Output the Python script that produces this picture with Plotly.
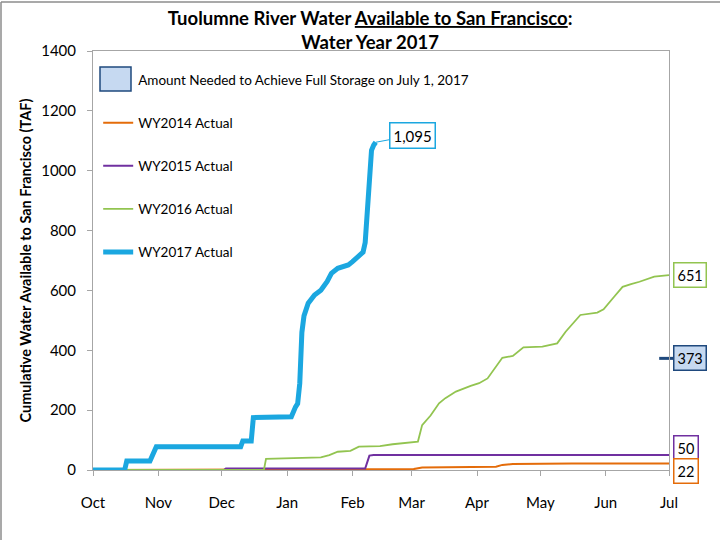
import plotly.graph_objects as go

# ---- data ----
month_ticks = ['2016-10-01', '2016-11-01', '2016-12-01', '2017-01-01', '2017-02-01',
               '2017-03-01', '2017-04-01', '2017-05-01', '2017-06-01', '2017-07-01']
month_labels = ['Oct', 'Nov', 'Dec', 'Jan', 'Feb', 'Mar', 'Apr', 'May', 'Jun', 'Jul']

wy2014_dates = ['2016-10-01', '2017-01-31', '2017-02-28', '2017-03-02', '2017-03-06',
                '2017-04-10', '2017-04-13', '2017-04-18', '2017-05-16', '2017-07-01']
wy2014_vals = [0, 1, 1, 3, 8, 11, 17, 20, 22, 22]

wy2015_dates = ['2016-10-01', '2016-12-02', '2016-12-03', '2017-02-07', '2017-02-09',
                '2017-02-11', '2017-07-01']
wy2015_vals = [0, 0, 5, 5, 48, 50, 50]

wy2016_dates = ['2016-10-01', '2016-12-21', '2016-12-22', '2017-01-07', '2017-01-17',
                '2017-01-21', '2017-01-25', '2017-01-31', '2017-02-04', '2017-02-14',
                '2017-02-20', '2017-03-04', '2017-03-05', '2017-03-06', '2017-03-10',
                '2017-03-14', '2017-03-17', '2017-03-22', '2017-03-29', '2017-04-02',
                '2017-04-06', '2017-04-10', '2017-04-13', '2017-04-18', '2017-04-23',
                '2017-05-02', '2017-05-09', '2017-05-13', '2017-05-20', '2017-05-28',
                '2017-05-31', '2017-06-05', '2017-06-09', '2017-06-13', '2017-06-17',
                '2017-06-24', '2017-06-30', '2017-07-01']
wy2016_vals = [0, 0, 37, 39, 42, 50, 61, 64, 78, 80, 86, 95, 122, 150, 182, 223, 240,
               262, 281, 290, 306, 345, 375, 381, 410, 412, 423, 462, 518, 526, 537,
               579, 612, 621, 629, 646, 651, 651]

wy2017_dates = ['2016-10-01', '2016-10-16', '2016-10-17', '2016-10-28', '2016-10-31',
                '2016-12-10', '2016-12-11', '2016-12-15', '2016-12-16', '2017-01-03',
                '2017-01-05', '2017-01-06', '2017-01-07', '2017-01-08', '2017-01-09',
                '2017-01-11', '2017-01-14', '2017-01-17', '2017-01-20', '2017-01-22',
                '2017-01-25', '2017-01-30', '2017-02-01', '2017-02-04', '2017-02-05',
                '2017-02-06', '2017-02-07', '2017-02-08', '2017-02-09', '2017-02-10',
                '2017-02-11', '2017-02-12']
wy2017_vals = [0, 0, 30, 30, 78, 78, 97, 97, 175, 178, 211, 222, 290, 460, 515, 557,
               585, 601, 630, 657, 674, 685, 696, 716, 722, 728, 760, 880, 1010, 1068,
               1085, 1095]

needed_date = ['2017-06-30']
needed_val = [373]

# ---- styles ----
FONT = 'Lato'
C14, C15, C16, C17 = '#E46C0A', '#7030A0', '#92C450', '#1BA7E0'
NEED_FILL, NEED_LINE = '#C6D9F1', '#1F497D'

# pixel -> paper helpers (plot area: x 93..669, y 51..470)
def px(x):
    return (x - 93) / 576


def py(y):
    return (470 - y) / 419


fig = go.Figure()
fig.add_trace(go.Scatter(x=wy2014_dates, y=wy2014_vals, mode='lines', name='WY2014 Actual',
                         line=dict(color=C14, width=2), legendgroup='a', legendrank=2))
fig.add_trace(go.Scatter(x=wy2015_dates, y=wy2015_vals, mode='lines', name='WY2015 Actual',
                         line=dict(color=C15, width=2), legendgroup='b', legendrank=3))
fig.add_trace(go.Scatter(x=wy2016_dates, y=wy2016_vals, mode='lines', name='WY2016 Actual',
                         line=dict(color=C16, width=1.8), legendgroup='c', legendrank=4))
fig.add_trace(go.Scatter(x=wy2017_dates, y=wy2017_vals, mode='lines', name='WY2017 Actual',
                         line=dict(color=C17, width=5), legendgroup='d', legendrank=5))
# plotted mark for the amount needed
fig.add_trace(go.Scatter(x=needed_date, y=needed_val, mode='markers', showlegend=False,
                         marker=dict(symbol='line-ew', size=11,
                                     line=dict(color=NEED_LINE, width=3)),
                         cliponaxis=False))
# legend entry for the amount needed
fig.add_trace(go.Scatter(x=[None], y=[None], mode='markers',
                         name='Amount Needed to Achieve Full Storage on July 1, 2017',
                         marker=dict(symbol='square', size=16, color=NEED_FILL,
                                     line=dict(color=NEED_FILL, width=0)),
                         legendgroup='e', legendrank=1))
# enlarged legend swatch for the amount-needed entry
fig.add_shape(type='rect', xref='paper', yref='paper', x0=px(100), x1=px(131),
              y0=py(91), y1=py(67), fillcolor=NEED_FILL,
              line=dict(color=NEED_LINE, width=1.5), layer='above')

anns = [
    dict(y=wy2016_vals[-1], text=str(wy2016_vals[-1]), border=C16, bg='white', ys=0),
    dict(y=needed_val[0], text=str(needed_val[0]), border=NEED_LINE, bg=NEED_FILL, ys=0),
    dict(y=wy2015_vals[-1], text=str(wy2015_vals[-1]), border=C15, bg='white', ys=7),
    dict(y=wy2014_vals[-1], text=str(wy2014_vals[-1]), border=C14, bg='white', ys=-8),
]
for a in anns:
    fig.add_annotation(x='2017-07-01', y=a['y'], text=a['text'], showarrow=False,
                       xanchor='left', xshift=4, yshift=a['ys'],
                       bordercolor=a['border'], borderwidth=1.5, bgcolor=a['bg'],
                       borderpad=3, font=dict(family=FONT, size=14.5, color='black'))
fig.add_annotation(x=wy2017_dates[-1], y=wy2017_vals[-1], text='1,095', showarrow=True,
                   arrowhead=0, arrowwidth=1, arrowcolor=C17, ax=37, ay=-7,
                   bordercolor=C17, borderwidth=1.5, bgcolor='white', borderpad=3,
                   font=dict(family=FONT, size=15, color='black'))

# outer frame lines (top and left edges of picture)
fig.add_shape(type='line', xref='paper', yref='paper', x0=px(1), x1=px(720), y0=py(2),
              y1=py(2), line=dict(color='#8C8C8C', width=1.5))
fig.add_shape(type='line', xref='paper', yref='paper', x0=px(1), x1=px(1), y0=py(540),
              y1=py(2), line=dict(color='#8C8C8C', width=1.5))

fig.update_layout(
    width=720, height=540,
    margin=dict(l=93, r=51, t=51, b=70),
    paper_bgcolor='white', plot_bgcolor='white',
    font=dict(family=FONT, size=14, color='black'),
    title=dict(text='<b>Tuolumne River Water <span style="text-decoration:underline">Available to San Francisco</span>:<br>Water Year 2017</b>',
               x=0.514, xanchor='center', y=1 - 25 / 540, yanchor='middle',
               font=dict(family=FONT, size=18.5, color='black')),
    showlegend=True,
    legend=dict(x=0.009, y=0.968, xanchor='left', yanchor='top',
                bgcolor='rgba(0,0,0,0)', tracegroupgap=22.5,
                font=dict(family=FONT, size=13.5, color='black')),
    xaxis=dict(type='date', range=['2016-10-01', '2017-07-01'],
               tickvals=month_ticks, ticktext=month_labels,
               showline=True, linecolor='#A6A6A6', linewidth=1, mirror=True,
               ticks='outside', ticklen=5, tickcolor='#A6A6A6',
               showgrid=False, zeroline=False, ticklabelstandoff=14,
               tickfont=dict(family=FONT, size=15, color='black')),
    yaxis=dict(range=[0, 1400], tickvals=[0, 200, 400, 600, 800, 1000, 1200, 1400],
               showline=True, linecolor='#A6A6A6', linewidth=1, mirror=True,
               ticks='outside', ticklen=5, tickcolor='#A6A6A6',
               showgrid=False, zeroline=False, ticklabelstandoff=8,
               tickfont=dict(family=FONT, size=15, color='black'),
               title=dict(text='<b>Cumulative Water Available to San Francisco (TAF)</b>',
                          font=dict(family=FONT, size=14.5, color='black'), standoff=6)),
)

fig.write_html('out.html')
